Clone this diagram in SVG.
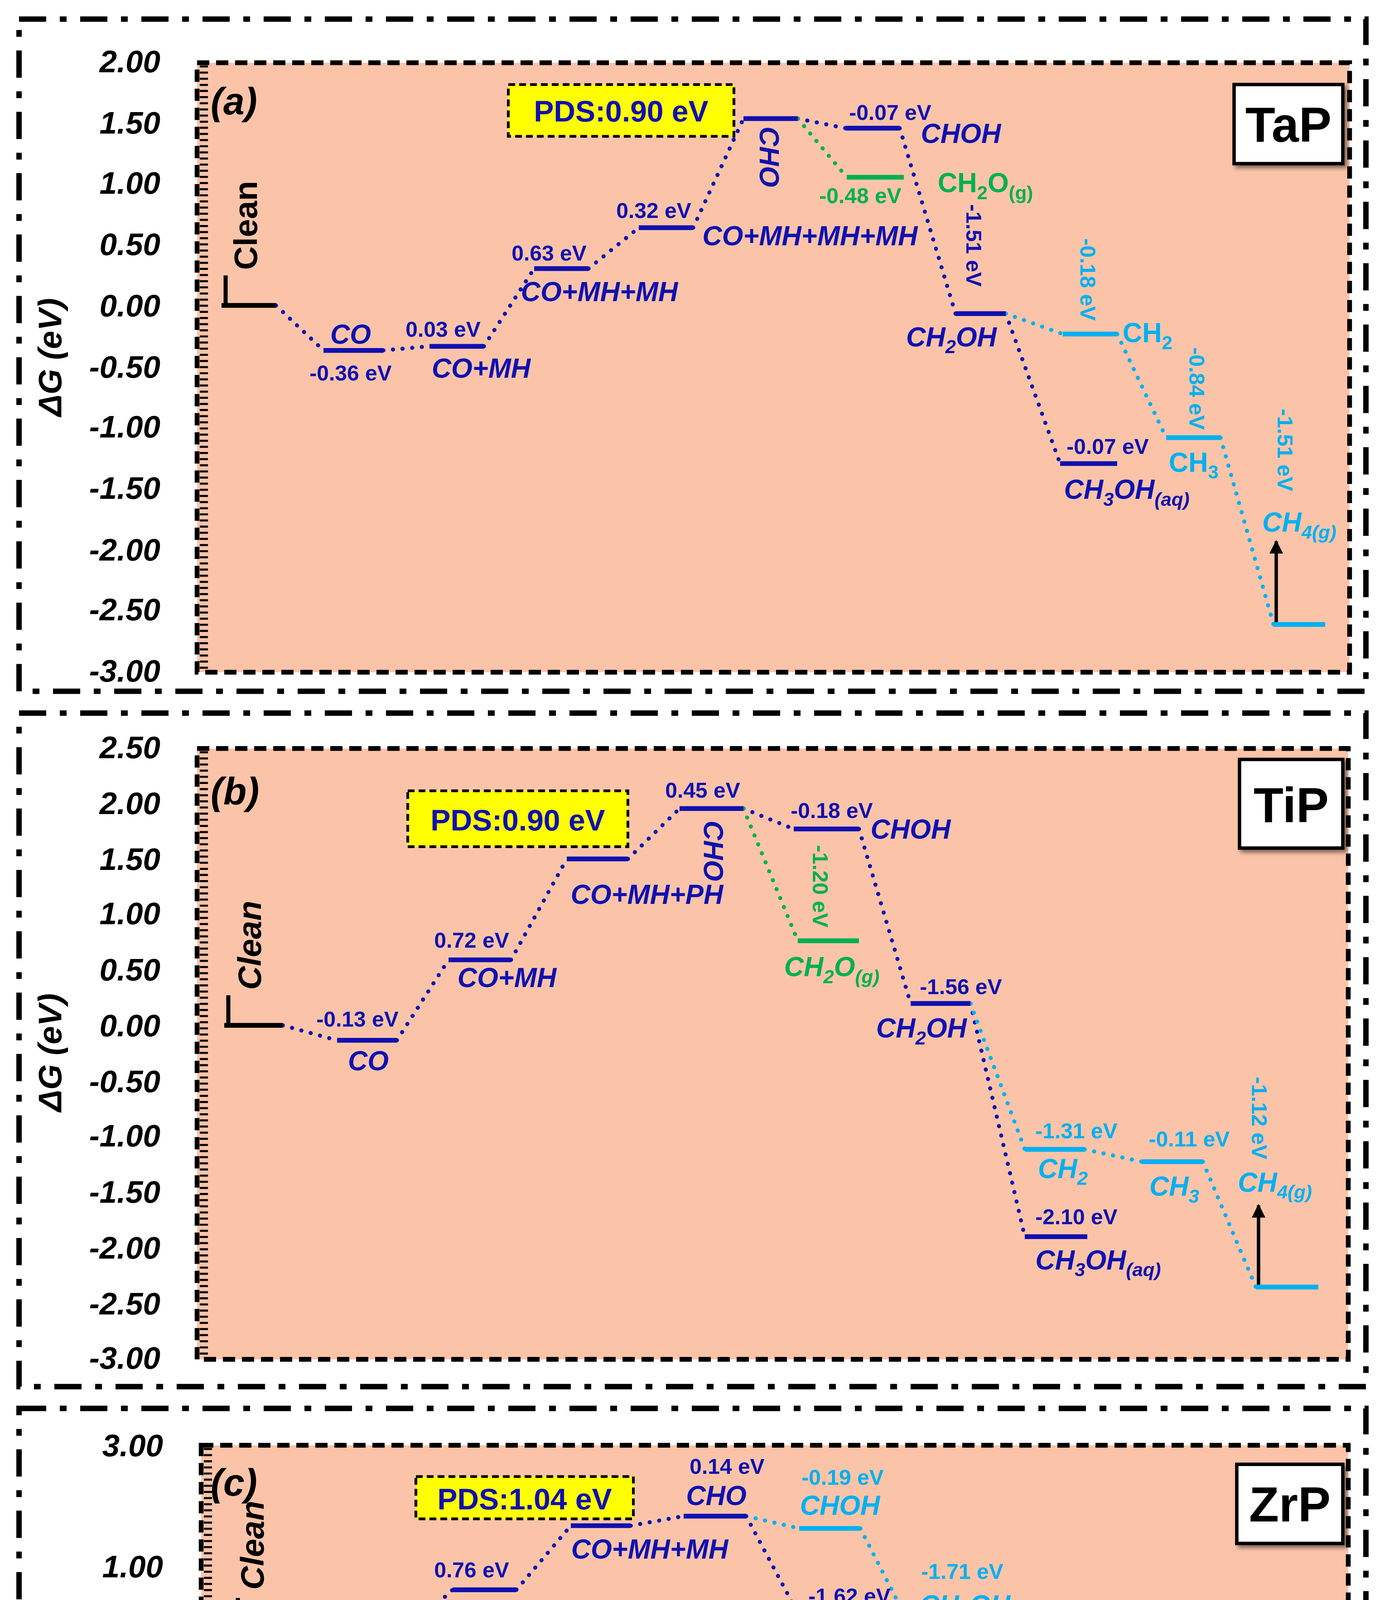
<svg xmlns="http://www.w3.org/2000/svg" width="3556" height="5473" viewBox="0 0 3556 5473">
<style>
text{font-family:"Liberation Sans",Arial,sans-serif;font-weight:bold}
.ax{font-size:23px;font-style:italic;text-anchor:end;fill:#000}
.lab{font-size:20px;font-style:italic;text-anchor:middle}
.ev{font-size:16px;text-anchor:middle}
.b{fill:#1010b0}.c{fill:#00b0f0}.g{fill:#00b050}
.lv{stroke-width:3.5}
.lb{stroke:#1010b0}.lc{stroke:#00b0f0}.lg{stroke:#00b050}
.dot{fill:none;stroke-width:3;stroke-dasharray:0.1 7;stroke-linecap:round}
.outer{fill:none;stroke:#000;stroke-width:4;stroke-dasharray:20 10 5 10}
.plot{fill:#fbc4a9;stroke:#000;stroke-width:3.5;stroke-dasharray:9 5}
.tick{stroke:#000;stroke-width:6;stroke-dasharray:1.5 3}
.pds{fill:#ffff00;stroke:#000;stroke-width:2;stroke-dasharray:5 3}
.pt{font-size:22px;text-anchor:middle;fill:#1010b0}
.tag{fill:#fff;stroke:#000;stroke-width:2.5}
.tt{font-size:36px;text-anchor:middle}
.arr{stroke:#000;stroke-width:2.5}
</style>
<defs>
<marker id="ar" viewBox="0 0 10 10" refX="9" refY="5" markerWidth="5" markerHeight="4" orient="auto" markerUnits="strokeWidth"><path d="M0,0 L10,5 L0,10 z" fill="#000"/></marker>
<filter id="sh"><feDropShadow dx="2" dy="2" stdDeviation="1.5" flood-opacity="0.5"/></filter>
</defs>
<rect width="3556" height="5473" fill="#fff"/>
<g transform="scale(3.4795,3.4904)">
<!-- ============ Panel a ============ -->
<g id="panel-a">
<rect class="outer" x="14" y="14" width="991" height="493"/>
<rect class="plot" x="145" y="46" width="848" height="447"/>
<line class="tick" x1="150" y1="48" x2="150" y2="491"/>
<g class="ax"><text x="118" y="53">2.00</text><text x="118" y="98">1.50</text><text x="118" y="142">1.00</text><text x="118" y="187">0.50</text><text x="118" y="232">0.00</text><text x="118" y="277">-0.50</text><text x="118" y="321">-1.00</text><text x="118" y="366">-1.50</text><text x="118" y="411">-2.00</text><text x="118" y="455">-2.50</text><text x="118" y="500">-3.00</text></g>
<text transform="translate(45,262) rotate(-90)" style="font-size:24px;font-style:italic;text-anchor:middle">ΔG (eV)</text>
<text x="155" y="84" style="font-size:28px;font-style:italic">(a)</text>
<rect class="tag" x="908" y="62" width="80" height="58" filter="url(#sh)"/><text class="tt" x="948" y="104">TaP</text>
<rect class="pds" x="374" y="62" width="166" height="38"/><text class="pt" x="457" y="89">PDS:0.90 eV</text>
</g>
<g id="connectors-a">
<polyline class="dot lb" points="203,224 238,257"/>
<polyline class="dot lb" points="282,257 316,254"/>
<polyline class="dot lb" points="356,254 393,197"/>
<polyline class="dot lb" points="433,197 470,167"/>
<polyline class="dot lb" points="510,167 547,87"/>
<polyline class="dot lb" points="587,87 622,94"/>
<polyline class="dot lg" points="587,87 623,130"/>
<polyline class="dot lb" points="662,94 703,230"/>
<polyline class="dot lb" points="740,230 780,340"/>
<polyline class="dot lc" points="740,230 782,245"/>
<polyline class="dot lc" points="822,245 858,321"/>
<polyline class="dot lc" points="898,321 937,458"/>
<line class="arr" x1="939" y1="458" x2="939" y2="397" marker-end="url(#ar)"/>
</g>
<g id="levels-a">
<line class="lv" stroke="#000" x1="163" y1="224" x2="203" y2="224"/>
<line stroke="#000" stroke-width="3" x1="166" y1="202" x2="166" y2="224"/>
<text transform="translate(189,198) rotate(-90)" style="font-size:24px">Clean</text>
<line class="lv lb" x1="238" y1="257" x2="282" y2="257"/><text class="lab b" x="258" y="252">CO</text><text class="ev b" x="258" y="279">-0.36 eV</text>
<line class="lv lb" x1="316" y1="254" x2="356" y2="254"/><text class="ev b" x="326" y="247">0.03 eV</text><text class="lab b" x="354" y="277">CO+MH</text>
<line class="lv lb" x1="393" y1="197" x2="433" y2="197"/><text class="ev b" x="404" y="191">0.63 eV</text><text class="lab b" x="441" y="221">CO+MH+MH</text>
<line class="lv lb" x1="470" y1="167" x2="510" y2="167"/><text class="ev b" x="481" y="160">0.32 eV</text><text class="lab b" x="596" y="180">CO+MH+MH+MH</text>
<line class="lv lb" x1="547" y1="87" x2="587" y2="87"/><text class="lab b" transform="translate(559,115) rotate(90)">CHO</text>
<line class="lv lb" x1="622" y1="94" x2="662" y2="94"/><text class="ev b" x="655" y="88">-0.07 eV</text><text class="lab b" x="707" y="105">CHOH</text>
<line class="lv lg" x1="623" y1="130" x2="665" y2="130"/><text class="ev g" x="633" y="149">-0.48 eV</text><text class="g" x="690" y="141" style="font-size:20px">CH<tspan font-size="14" dy="5">2</tspan><tspan dy="-5">O</tspan><tspan font-size="14" dy="5">(g)</tspan></text>
<line class="lv lb" x1="703" y1="230" x2="740" y2="230"/><text class="lab b" x="700" y="254">CH<tspan font-size="14" dy="5">2</tspan><tspan dy="-5">OH</tspan></text><text class="ev b" transform="translate(711,180) rotate(90)">-1.51 eV</text>
<line class="lv lb" x1="780" y1="340" x2="822" y2="340"/><text class="ev b" x="815" y="333">-0.07 eV</text><text class="lab b" x="829" y="366">CH<tspan font-size="14" dy="5">3</tspan><tspan dy="-5">OH</tspan><tspan font-size="14" dy="5">(aq)</tspan></text>
<line class="lv lc" x1="782" y1="245" x2="822" y2="245"/><text class="c" x="826" y="251" style="font-size:20px">CH<tspan font-size="14" dy="5">2</tspan></text><text class="ev c" transform="translate(795,205) rotate(90)">-0.18 eV</text>
<line class="lv lc" x1="858" y1="321" x2="898" y2="321"/><text class="c" x="860" y="346" style="font-size:20px">CH<tspan font-size="14" dy="5">3</tspan></text><text class="ev c" transform="translate(875,285) rotate(90)">-0.84 eV</text>
<line class="lv lc" x1="937" y1="458" x2="975" y2="458"/><text class="lab c" x="956" y="390">CH<tspan font-size="14" dy="5">4(g)</tspan></text><text class="ev c" transform="translate(940,330) rotate(90)">-1.51 eV</text>
</g>
<!-- ============ Panel b ============ -->
<g id="panel-b">
<rect class="outer" x="14" y="523" width="991" height="494"/>
<rect class="plot" x="145" y="549" width="847" height="448"/>
<line class="tick" x1="150" y1="551" x2="150" y2="995"/>
<g class="ax"><text x="118" y="556">2.50</text><text x="118" y="597">2.00</text><text x="118" y="638">1.50</text><text x="118" y="678">1.00</text><text x="118" y="719">0.50</text><text x="118" y="760">0.00</text><text x="118" y="801">-0.50</text><text x="118" y="841">-1.00</text><text x="118" y="882">-1.50</text><text x="118" y="923">-2.00</text><text x="118" y="964">-2.50</text><text x="118" y="1004">-3.00</text></g>
<text transform="translate(45,772) rotate(-90)" style="font-size:24px;font-style:italic;text-anchor:middle">ΔG (eV)</text>
<text x="155" y="590" style="font-size:28px;font-style:italic">(b)</text>
<rect class="tag" x="912" y="557" width="76" height="65" filter="url(#sh)"/><text class="tt" x="950" y="603">TiP</text>
<rect class="pds" x="300" y="580" width="162" height="41"/><text class="pt" x="381" y="609">PDS:0.90 eV</text>
</g>
<g id="connectors-b">
<polyline class="dot lb" points="208,752 248,763"/>
<polyline class="dot lb" points="292,763 330,704"/>
<polyline class="dot lb" points="376,704 417,630"/>
<polyline class="dot lb" points="462,630 500,593"/>
<polyline class="dot lb" points="547,593 584,608"/>
<polyline class="dot lg" points="547,593 587,690"/>
<polyline class="dot lb" points="632,608 670,736"/>
<polyline class="dot lb" points="714,736 754,907"/>
<polyline class="dot lc" points="714,736 754,843"/>
<polyline class="dot lc" points="798,843 840,852"/>
<polyline class="dot lc" points="885,852 924,944"/>
<line class="arr" x1="926" y1="944" x2="926" y2="884" marker-end="url(#ar)"/>
</g>
<g id="levels-b">
<line class="lv" stroke="#000" x1="165" y1="752" x2="208" y2="752"/>
<line stroke="#000" stroke-width="3" x1="168" y1="730" x2="168" y2="752"/>
<text transform="translate(192,726) rotate(-90)" style="font-size:24px;font-style:italic">Clean</text>
<line class="lv lb" x1="248" y1="763" x2="292" y2="763"/><text class="ev b" x="263" y="753">-0.13 eV</text><text class="lab b" x="271" y="785">CO</text>
<line class="lv lb" x1="330" y1="704" x2="376" y2="704"/><text class="ev b" x="347" y="695">0.72 eV</text><text class="lab b" x="373" y="724">CO+MH</text>
<line class="lv lb" x1="417" y1="630" x2="462" y2="630"/><text class="lab b" x="476" y="663">CO+MH+PH</text>
<line class="lv lb" x1="500" y1="593" x2="547" y2="593"/><text class="ev b" x="517" y="585">0.45 eV</text><text class="lab b" transform="translate(518,624) rotate(90)">CHO</text>
<line class="lv lb" x1="584" y1="608" x2="632" y2="608"/><text class="ev b" x="612" y="600">-0.18 eV</text><text class="lab b" x="670" y="615">CHOH</text>
<line class="lv lg" x1="587" y1="690" x2="632" y2="690"/><text class="lab g" x="612" y="716">CH<tspan font-size="14" dy="5">2</tspan><tspan dy="-5">O</tspan><tspan font-size="14" dy="5">(g)</tspan></text><text class="ev g" transform="translate(598,650) rotate(90)">-1.20 eV</text>
<line class="lv lb" x1="670" y1="736" x2="714" y2="736"/><text class="ev b" x="707" y="729">-1.56 eV</text><text class="lab b" x="678" y="761">CH<tspan font-size="14" dy="5">2</tspan><tspan dy="-5">OH</tspan></text>
<line class="lv lc" x1="754" y1="843" x2="798" y2="843"/><text class="ev c" x="792" y="835">-1.31 eV</text><text class="lab c" x="782" y="864">CH<tspan font-size="14" dy="5">2</tspan></text>
<line class="lv lb" x1="754" y1="907" x2="800" y2="907"/><text class="ev b" x="792" y="898">-2.10 eV</text><text class="lab b" x="808" y="931">CH<tspan font-size="14" dy="5">3</tspan><tspan dy="-5">OH</tspan><tspan font-size="14" dy="5">(aq)</tspan></text>
<line class="lv lc" x1="840" y1="852" x2="885" y2="852"/><text class="ev c" x="875" y="841">-0.11 eV</text><text class="lab c" x="864" y="877">CH<tspan font-size="14" dy="5">3</tspan></text>
<line class="lv lc" x1="924" y1="944" x2="970" y2="944"/><text class="lab c" x="938" y="874">CH<tspan font-size="14" dy="5">4(g)</tspan></text><text class="ev c" transform="translate(921,820) rotate(90)">-1.12 eV</text>
</g>
<!-- ============ Panel c ============ -->
<g id="panel-c">
<rect class="outer" x="14" y="1033" width="991" height="519"/>
<rect class="plot" x="148" y="1060" width="844" height="448"/>
<line class="tick" x1="153" y1="1062" x2="153" y2="1506"/>
<g class="ax"><text x="120" y="1068">3.00</text><text x="120" y="1157">1.00</text><text x="120" y="1246">-1.00</text><text x="120" y="1336">-3.00</text><text x="120" y="1425">-5.00</text><text x="120" y="1515">-7.00</text></g>
<text transform="translate(45,1286) rotate(-90)" style="font-size:24px;font-style:italic;text-anchor:middle">ΔG (eV)</text>
<text x="155" y="1097" style="font-size:28px;font-style:italic">(c)</text>
<rect class="tag" x="910" y="1074" width="78" height="58" filter="url(#sh)"/><text class="tt" x="949" y="1116">ZrP</text>
<rect class="pds" x="306" y="1083" width="160" height="31"/><text class="pt" x="386" y="1107">PDS:1.04 eV</text>
<rect class="pds" x="810" y="1180" width="160" height="39"/><text class="pt" x="890" y="1207">PDS:1.06 eV</text>
<text x="568" y="1540" style="font-size:22px;font-style:italic;text-anchor:middle">Reaction Coordinate</text>
</g>
<g id="connectors-c">
<polyline class="dot lb" points="210,1194 252,1200"/>
<polyline class="dot lb" points="296,1200 333,1166"/>
<polyline class="dot lb" points="380,1166 420,1119"/>
<polyline class="dot lb" points="464,1119 503,1112"/>
<polyline class="dot lc" points="549,1112 588,1121"/>
<polyline class="dot lb" points="549,1112 588,1185"/>
<polyline class="dot lb" points="632,1185 672,1207"/>
<polyline class="dot lc" points="633,1121 672,1197"/>
<polyline class="dot lb" points="716,1207 756,1436"/>
<polyline class="dot lc" points="716,1197 756,1274"/>
<polyline class="dot lc" points="802,1274 840,1227"/>
<polyline class="dot lc" points="886,1227 925,1490"/>
<line class="arr" x1="927" y1="1490" x2="927" y2="1432" marker-end="url(#ar)"/>
</g>
<g id="levels-c">
<line class="lv" stroke="#000" x1="172" y1="1194" x2="210" y2="1194"/>
<line stroke="#000" stroke-width="3" x1="175" y1="1172" x2="175" y2="1194"/>
<text transform="translate(194,1166) rotate(-90)" style="font-size:24px;font-style:italic">Clean</text>
<line class="lv lb" x1="252" y1="1200" x2="296" y2="1200"/><text class="ev b" x="262" y="1191">-0.11 eV</text><text class="lab b" x="276" y="1222">CO</text>
<line class="lv lb" x1="333" y1="1166" x2="380" y2="1166"/><text class="ev b" x="347" y="1157">0.76 eV</text><text class="lab b" x="382" y="1189">CO+MH</text>
<line class="lv lb" x1="420" y1="1119" x2="464" y2="1119"/><text class="lab b" x="478" y="1143">CO+MH+MH</text>
<line class="lv lb" x1="503" y1="1112" x2="549" y2="1112"/><text class="ev b" x="535" y="1081">0.14 eV</text><text class="lab b" x="527" y="1104">CHO</text>
<line class="lv lc" x1="588" y1="1121" x2="633" y2="1121"/><text class="ev c" x="620" y="1089">-0.19 eV</text><text class="lab c" x="618" y="1111">CHOH</text>
<line class="lv lb" x1="588" y1="1185" x2="632" y2="1185"/><text class="ev b" x="625" y="1176">-1.62 eV</text><text class="lab b" x="610" y="1211">CH<tspan font-size="14" dy="5">2</tspan><tspan dy="-5">O</tspan></text>
<line class="lv lc" x1="672" y1="1197" x2="716" y2="1197"/><text class="ev c" x="708" y="1158">-1.71 eV</text><text class="lab c" x="710" y="1184">CH<tspan font-size="14" dy="5">2</tspan><tspan dy="-5">OH</tspan></text>
<line class="lv lb" x1="672" y1="1207" x2="716" y2="1207"/><text class="lab b" x="686" y="1230">CH<tspan font-size="14" dy="5">3</tspan><tspan dy="-5">O</tspan></text><text class="ev b" x="681" y="1250">-0.04 eV</text>
<line class="lv lc" x1="756" y1="1274" x2="802" y2="1274"/><text class="lab c" x="793" y="1303">CH<tspan font-size="14" dy="5">3</tspan><tspan dy="-5">+OH</tspan></text><text class="ev c" transform="translate(770,1237) rotate(90)">-1.72 eV</text>
<line class="lv lc" x1="840" y1="1227" x2="886" y2="1227"/><text class="lab c" x="864" y="1253">CH<tspan font-size="14" dy="5">3</tspan></text>
<line class="lv lb" x1="756" y1="1436" x2="802" y2="1436"/><text class="ev b" x="792" y="1428">-5.09 eV</text><text class="lab b" x="808" y="1461">CH<tspan font-size="14" dy="5">3</tspan><tspan dy="-5">OH</tspan><tspan font-size="14" dy="5">(aq)</tspan></text>
<line class="lv lc" x1="925" y1="1490" x2="970" y2="1490"/><text class="lab c" x="950" y="1424">CH<tspan font-size="14" dy="5">4(g)</tspan></text><text class="ev c" transform="translate(936,1365) rotate(90)">-5.85 eV</text>
</g>
</g>
</svg>
